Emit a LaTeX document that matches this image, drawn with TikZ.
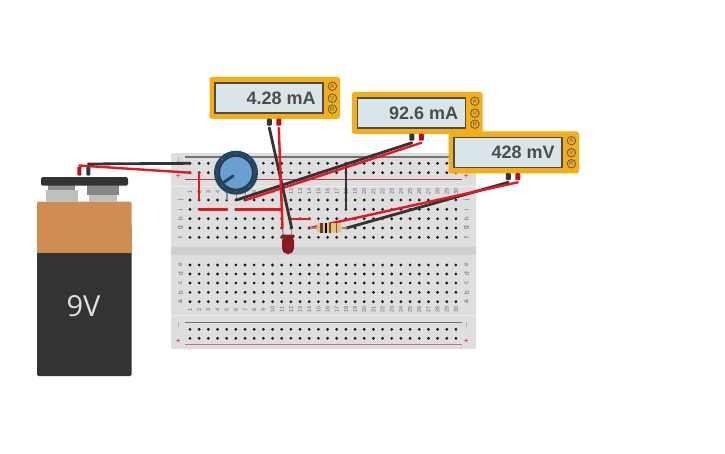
\documentclass[tikz,border=0pt]{standalone}
\usepackage{fontspec}
\setmainfont{Liberation Sans}
\newfontfamily\battfont{Open Sans}
\usetikzlibrary{positioning}
\definecolor{mred}{HTML}{E5171F}
\definecolor{mblack}{HTML}{333333}
\definecolor{morange}{HTML}{F5AE16}
\definecolor{mscreen}{HTML}{DAE5EA}
\definecolor{mboard}{HTML}{DEDEDE}
\definecolor{mgap}{HTML}{D0D0D0}
\definecolor{mtan}{HTML}{CF8D52}
\definecolor{mknob}{HTML}{27465E}
\definecolor{mdial}{HTML}{6A9FD3}
\definecolor{mled}{HTML}{861C1F}
\definecolor{mres}{HTML}{E3C27F}
\tikzset{
  hole/.style = {fill = black!90, circle, inner sep = 0, minimum size = 3.1},
  redwire/.style = {draw = mred, line width = 2.4, line cap = round},
  blackwire/.style = {draw = mblack, line width = 2.8, line cap = round},
  leg/.style = {draw = black!45, line width = 1.3},
  rowlabel/.style = {text = black!60, font = \fontsize{6.5}{6.5}\selectfont, rotate = 90, inner sep = 0},
  reading/.style = {text = black!70, font = \fontsize{18}{18}\bfseries\selectfont, anchor = east, inner sep = 0},
  case/.style = {fill = morange, rounded corners = 2.5, anchor = north west, minimum width = 130.5, minimum height = 42, inner sep = 0},
  screen/.style = {fill = mscreen, draw = black!70, line width = 1.5, anchor = north west, minimum width = 108, minimum height = 30, inner sep = 0},
  modeon/.style = {fill = black!75, circle, inner sep = 0, minimum size = 9, text = morange, font = \fontsize{6}{6}\bfseries\selectfont},
  modeoff/.style = {draw = black!65, line width = 0.8, circle, inner sep = 0, minimum size = 8.5, text = black!65, font = \fontsize{6}{6}\selectfont},
  redtip/.style = {fill = mred!80!black, rounded corners = 1, inner sep = 0, minimum width = 5, minimum height = 7},
  blacktip/.style = {fill = mblack, rounded corners = 1, inner sep = 0, minimum width = 5, minimum height = 7},
}
% meter: name, corner, reading, mode on a/v/r
\newcommand{\meter}[4]{
  \node [case] (#1) at (#2) {};
  \node [screen, xshift = 5, yshift = -5.5] (#1s) at (#1.north west) {};
  \node [reading, xshift = -8] (#1r) at (#1s.east) {#3};
  \foreach \mode/\ypos in {A/-9.5, V/-21.5, R/-32.5} {
    \ifx\mode#4
      \node [modeon, xshift = -7.8, yshift = \ypos] (#1\mode) at (#1.north east) {\mode};
    \else
      \node [modeoff, xshift = -7.8, yshift = \ypos] (#1\mode) at (#1.north east) {\mode};
    \fi
  }
  \node [blacktip, xshift = 60, yshift = -3] (#1b) at (#1.south west) {};
  \node [redtip, xshift = 69.5, yshift = -3] (#1p) at (#1.south west) {};
  \coordinate (#1bw) at ([yshift = -2] #1b.south);
  \coordinate (#1pw) at ([yshift = -2] #1p.south);
}
\begin{document}
\begin{tikzpicture}[x = 1pt, y = -1pt]
  \useasboundingbox [fill = white] (0, 0) rectangle (725, 453);

  % battery
  \fill [mblack, rounded corners = 1.5] (37, 230) rectangle (131.5, 376);
  \fill [mtan, rounded corners = 1.5] (37, 201.5) rectangle (131.5, 240);
  \fill [mtan] (37, 225) rectangle (131.5, 253);
  \fill [black!25] (46, 189.5) rectangle (77.5, 201.5);
  \fill [black!45] (48, 185) rectangle (75, 189.5);
  \fill [black!25] (89, 195) rectangle (116.5, 201.5);
  \fill [black!47] (86.5, 185) rectangle (119, 195);
  \fill [mblack, rounded corners = 1.5] (41, 177) rectangle (128, 185.5);
  \node [text = black!12, font = \battfont\fontsize{29}{29}\selectfont, inner sep = 0] (volts) at (83.5, 306) {9V};

  % breadboard
  \fill [mboard, rounded corners = 1.5] (171, 153) rectangle (476, 349);
  \fill [mgap] (171, 247) rectangle (476, 255);
  \draw [black!8, line width = 0.7] (171, 186.5) -- (476, 186.5);
  \draw [black!8, line width = 0.7] (171, 315) -- (476, 315);
  \draw [black!55, line width = 1.2] (185, 157) -- (462, 157);
  \draw [mred!70!black!80, line width = 1.2] (185, 179.3) -- (462, 179.3);
  \draw [black!55, line width = 1.2] (185, 322.7) -- (462, 322.7);
  \draw [mred!70!black!60, line width = 1.2] (185, 344.7) -- (462, 344.7);

  \foreach \col in {1, ..., 30} {
    \pgfmathsetmacro{\colx}{190 + 9.17 * (\col - 1)}
    \foreach \rowy in {200, 209.3, 218.7, 228, 237.3, 265, 274, 283, 292.3, 301.7}
      \node [hole] at (\colx, \rowy) {};
    \foreach \rowy in {163.3, 172.7, 329.3, 338.3}
      \node [hole] at (\colx, \rowy) {};
    \node [rowlabel, font = \fontsize{5.5}{5.5}\selectfont] (top\col) at (\colx, 191.5) {\col};
    \node [rowlabel, font = \fontsize{5.5}{5.5}\selectfont] (bot\col) at (\colx, 309.5) {\col};
  }
  \foreach \letter/\rowy in {j/200, i/209.3, h/218.7, g/228, f/237.3, e/265, d/274, c/283, b/292.3, a/301.7} {
    \node [rowlabel] (left\letter) at (180.5, \rowy) {\letter};
    \node [rowlabel] (right\letter) at (466.5, \rowy) {\letter};
  }
  \foreach \side/\sidex in {l/178.5, r/466.5} {
    \node [rowlabel, font = \fontsize{8}{8}\selectfont] (\side minusa) at (\sidex, 160) {$-$};
    \node [rowlabel, text = mred, font = \fontsize{8}{8}\selectfont] (\side plusa) at (\sidex, 176.5) {+};
    \node [rowlabel, font = \fontsize{8}{8}\selectfont] (\side minusb) at (\sidex, 325) {$-$};
    \node [rowlabel, text = mred, font = \fontsize{8}{8}\selectfont] (\side plusb) at (\sidex, 341.5) {+};
  }

  % holes the wires end in
  \coordinate (railk) at (190, 163.3);
  \coordinate (railp) at (190, 172.7);
  \coordinate (hfeed) at (199.2, 172.7);
  \coordinate (jfeed) at (199.2, 200);
  \coordinate (ia) at (199.2, 209.3);
  \coordinate (ib) at (227, 209.3);
  \coordinate (ic) at (236, 209.3);
  \coordinate (id) at (281.7, 209.3);
  \coordinate (potw) at (236.5, 200);
  \coordinate (potr) at (245.7, 200);
  \coordinate (hla) at (291, 218.7);
  \coordinate (hlb) at (310, 218.7);
  \coordinate (jump) at (346, 163.3);
  \coordinate (jumpb) at (346, 209.3);
  \coordinate (ledp) at (282.5, 228);
  \coordinate (ledk) at (291.7, 228);
  \coordinate (resl) at (310, 228);
  \coordinate (resr) at (346.7, 228);

  % potentiometer
  \draw [leg] (227, 190) -- (227, 200);
  \draw [leg] (236.5, 190) -- (potw);
  \draw [leg] (potr |- 0, 190) -- (potr);
  \node [fill = mknob, circle, inner sep = 0, minimum size = 44] (pot) at (236, 172.7) {};
  \node [draw = mknob!75!black, fill = mdial, line width = 1, circle, inner sep = 0, minimum size = 33] (dial) at (pot) {};
  \foreach \ang in {0, 45, ..., 315}
    \fill [mdial!60!mknob] (pot) ++ (\ang:19) circle (0.7);
  \draw [mknob, line width = 3, line cap = round] (233, 176) -- (223.5, 182.5);

  % led
  \draw [leg] (ledp) -- (283.3, 236);
  \draw [leg] (ledk) -- (291.7, 236);
  \fill [mled, rounded corners = 1] (281, 234.5) rectangle (294.5, 238);
  \fill [mled, rounded corners = 5.5] (282, 235) rectangle (294, 254);

  % jumpers
  \draw [redwire] (hfeed) -- (jfeed);
  \draw [redwire] (ia) -- (ib);
  \draw [redwire] (ic) -- (id);
  \draw [redwire] (hla) -- (hlb);
  \draw [blackwire] (jump) -- (jumpb);

  \meter{ma}{209.3, 76.7}{4.28 mA}{A}
  \meter{mb}{351.8, 91.7}{92.6 mA}{A}
  \meter{mc}{448.3, 131.2}{428 mV}{V}

  \draw [blackwire] (mbbw) -- (potw);
  \draw [redwire] (mbpw) -- (potr);
  \draw [blackwire] (mabw) -- (ledk);
  \draw [redwire] (mapw) -- (ledp);
  \draw [blackwire] (mcbw) -- (resr);
  \draw [redwire] (mcpw) -- (resl);

  % resistor
  \draw [leg] (resl) -- (317.7, 228);
  \draw [leg] (341.7, 228) -- (resr);
  \fill [mres, rounded corners = 3] (316.7, 223) rectangle (341.7, 232.5);
  \fill [black!50!brown] (319.5, 223) rectangle (323, 232.5);
  \fill [black] (324.5, 223) rectangle (326.5, 232.5);
  \fill [black!40!brown] (328.5, 223) rectangle (331, 232.5);
  \fill [black!50!mres] (336, 223) rectangle (337, 232.5);

  % battery clip
  \node [redtip, minimum width = 4, minimum height = 9] (clipp) at (79.3, 171) {};
  \node [blacktip, minimum width = 4, minimum height = 9] (clipk) at (88.3, 171) {};
  \coordinate (clippw) at (79.3, 165.5);
  \coordinate (clipkw) at (88.3, 164);
  \draw [redwire] (clippw) -- (railp);
  \draw [blackwire] (clipkw) -- (railk);
\end{tikzpicture}
\end{document}
